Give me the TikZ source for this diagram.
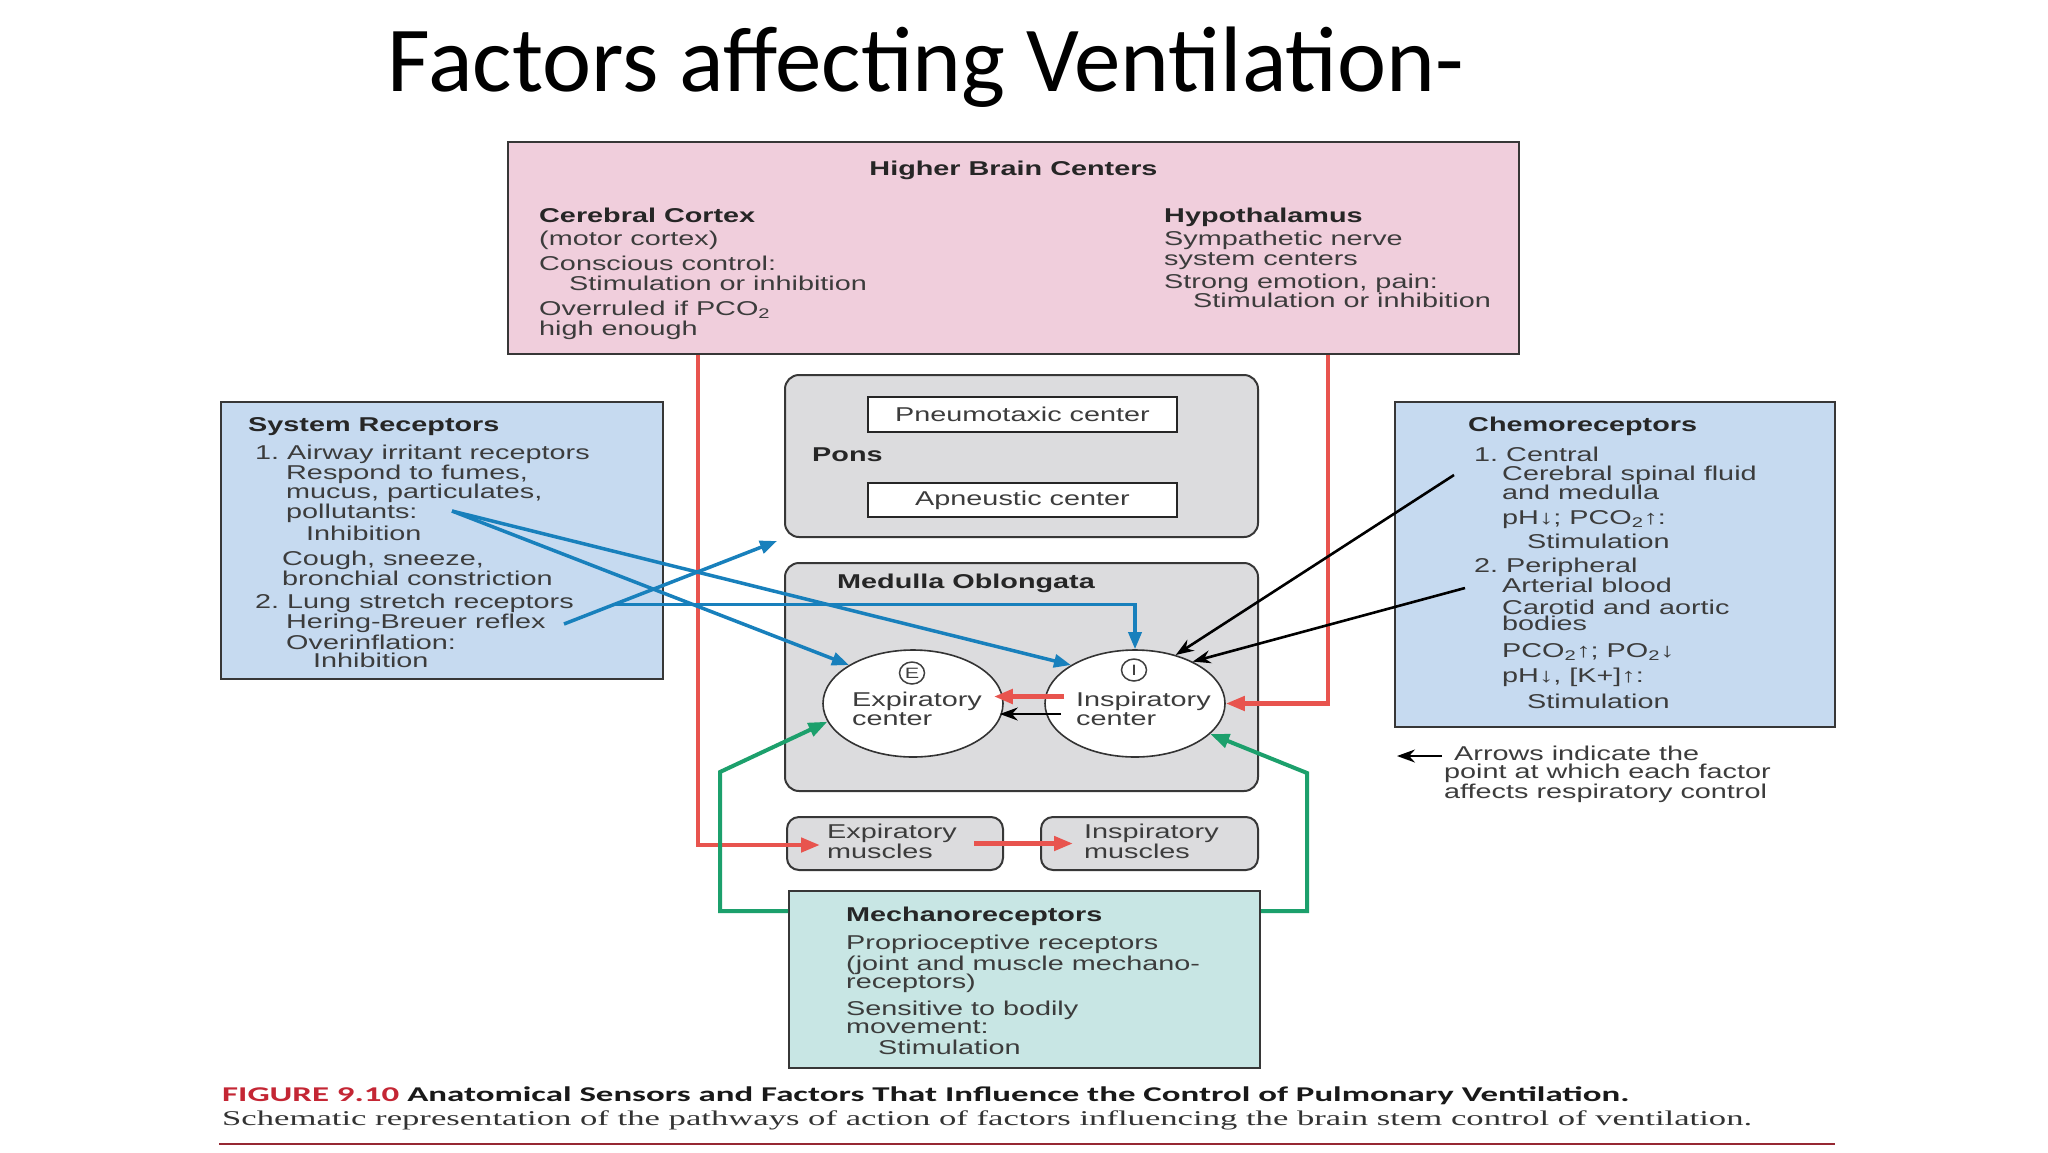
\documentclass[tikz,border=0pt]{standalone}
\usepackage{fontspec}
\setmainfont{Liberation Sans}
\newfontfamily\diagfont[FakeStretch=1.44]{Liberation Sans}
\newfontfamily\titlefont{Carlito}
\newfontfamily\capsans[FakeStretch=1.66]{Carlito}
\newfontfamily\capserif[FakeStretch=1.65]{Liberation Serif}
\usepackage{tikz}
\usetikzlibrary{positioning,arrows.meta,calc,shapes.geometric}
\definecolor{pinkbox}{RGB}{240,206,220}
\definecolor{bluebox}{RGB}{198,218,240}
\definecolor{graybox}{RGB}{220,220,222}
\definecolor{tealbox}{RGB}{200,230,228}
\definecolor{edgegray}{RGB}{55,55,55}
\definecolor{textgray}{RGB}{60,60,60}
\definecolor{redpath}{RGB}{232,84,78}
\definecolor{bluepath}{RGB}{24,128,188}
\definecolor{greenpath}{RGB}{28,160,108}
\definecolor{capred}{RGB}{196,38,52}
\definecolor{rulered}{RGB}{150,40,50}
\tikzset{
  panel/.style={draw=edgegray,line width=2pt,inner sep=0pt},
  brainpart/.style={panel,fill=graybox,rounded corners=14pt},
  centerbox/.style={draw=black!85,line width=2pt,fill=white,inner sep=0pt,
    text=textgray,font=\diagfont\fontsize{20}{20}\selectfont},
  hub/.style={ellipse,draw=black!80,line width=1.6pt,fill=white,inner sep=0pt,
    minimum width=180pt,minimum height=107pt},
  tag/.style={ellipse,draw=black!75,line width=1.5pt,inner sep=0pt,
    minimum width=25pt,minimum height=22pt,text=black!75,
    font=\diagfont\fontsize{15}{15}\selectfont},
  body/.style={anchor=north west,yshift=16pt,inner sep=0pt,align=left,text=textgray,
    execute at begin node={\rule{0pt}{16pt}},
    font=\diagfont\fontsize{20}{18.5}\selectfont},
  head/.style={anchor=base west,inner sep=0pt,text=black!85,
    font=\diagfont\bfseries\fontsize{20}{20}\selectfont},
  redarrow/.style={draw=redpath,line width=4.5pt,-{Triangle[length=19pt,width=14pt]}},
  bluearrow/.style={draw=bluepath,line width=3.5pt,-{Triangle[length=17pt,width=13pt]}},
  greenarrow/.style={draw=greenpath,line width=4pt,-{Triangle[length=19pt,width=14pt]}},
  blackarrow/.style={draw=black,line width=2.6pt,-{Stealth[length=18pt,width=13pt]}}
}
\begin{document}
\begin{tikzpicture}[x=1pt,y=-1pt]
  \fill[white] (0,0) rectangle (2048,1152);
  \useasboundingbox (0,0) rectangle (2048,1152);
  \node[anchor=base,inner sep=0pt,font=\titlefont\fontsize{93}{100}\selectfont]
    (title) at (926,91) {Factors affecting Ventilation-};

  % higher brain centers
  \node[panel,fill=pinkbox,minimum width=1011pt,minimum height=212pt]
    (hbc) at (1013.5,248) {};
  \node[head,anchor=base] (hbctitle) at (1013.5,175) {Higher Brain Centers};
  \node[head] (cortex) at (539,222) {Cerebral Cortex};
  \node[body,font=\diagfont\fontsize{20}{19.5}\selectfont] (cortextxt) at (539,247)
    {(motor cortex)\\[5.5pt]
     Conscious control:\\
     \hspace*{30pt}Stimulation or inhibition\\[6pt]
     Overruled if PCO\textsubscript{2}\\
     high enough};
  \node[head] (hypo) at (1164,222) {Hypothalamus};
  \node[body,font=\diagfont\fontsize{20}{19.5}\selectfont] (hypotxt) at (1164,247)
    {Sympathetic nerve\\
     system centers\\[3.5pt]
     Strong emotion, pain:\\
     \hspace*{29pt}Stimulation or inhibition};

  % system receptors
  \node[panel,fill=bluebox,minimum width=442pt,minimum height=277pt]
    (sysbox) at (442,540.5) {};
  \node[head] (systitle) at (248,431) {System Receptors};
  \node[body] (systxt) at (255,461)
    {1.\ Airway irritant receptors\\
     \hspace*{31pt}Respond to fumes,\\
     \hspace*{31pt}mucus, particulates,\\
     \hspace*{31pt}pollutants:\\[2.5pt]
     \hspace*{51pt}Inhibition\\[6.5pt]
     \hspace*{27pt}Cough, sneeze,\\
     \hspace*{27pt}bronchial constriction\\[5pt]
     2.\ Lung stretch receptors\\
     \hspace*{31pt}Hering-Breuer reflex\\[1pt]
     \hspace*{31pt}Overinflation:\\
     \hspace*{58pt}Inhibition};

  % chemoreceptors
  \node[panel,fill=bluebox,minimum width=440pt,minimum height=325pt]
    (chemobox) at (1615,564.5) {};
  \node[head] (chemotitle) at (1468,431) {Chemoreceptors};
  \node[body] (chemotxt) at (1474,463)
    {1.\ Central\\
     \hspace*{28pt}Cerebral spinal fluid\\
     \hspace*{28pt}and medulla\\[6pt]
     \hspace*{28pt}pH↓; PCO\textsubscript{2}↑:\\[5pt]
     \hspace*{53pt}Stimulation\\[5pt]
     2.\ Peripheral\\
     \hspace*{28pt}Arterial blood\\[3.5pt]
     \hspace*{28pt}Carotid and aortic\\[-2.5pt]
     \hspace*{28pt}bodies\\[8.5pt]
     \hspace*{28pt}PCO\textsubscript{2}↑; PO\textsubscript{2}↓\\[6.5pt]
     \hspace*{28pt}pH↓, [K+]↑:\\[6.5pt]
     \hspace*{53pt}Stimulation};

  % key
  \coordinate (keyhead) at (1397,756);
  \coordinate (keytail) at (1442,756);
  \draw[blackarrow,line width=2pt] (keytail) -- (keyhead);
  \node[body,font=\diagfont\fontsize{20}{18}\selectfont] (keytxt) at (1444,762)
    {\hspace*{10pt}Arrows indicate the\\
     point at which each factor\\
     affects respiratory control};

  % pons
  \node[brainpart,minimum width=473pt,minimum height=162pt] (pons) at (1021.5,456) {};
  \node[head] (ponslabel) at (812,461) {Pons};
  \node[centerbox,minimum width=309pt,minimum height=35pt]
    (pneumo) at (1022.5,414.5) {Pneumotaxic center};
  \node[centerbox,minimum width=309pt,minimum height=34pt]
    (apneu) at (1022.5,500) {Apneustic center};

  % medulla
  \node[brainpart,minimum width=473pt,minimum height=228pt] (medulla) at (1021.5,677) {};
  \node[head] (medlabel) at (837,588) {Medulla Oblongata};
  \node[hub] (expc) at (913,703.5) {};
  \node[hub] (inspc) at (1135,703.5) {};
  \node[tag] (etag) at (912,673) {E};
  \node[tag] (itag) at (1134,670) {I};
  \node[body,font=\diagfont\fontsize{20}{19}\selectfont] (exptxt) at (852,708)
    {Expiratory\\ center};
  \node[body,font=\diagfont\fontsize{20}{19}\selectfont] (insptxt) at (1076,708)
    {Inspiratory\\ center};

  % muscles
  \node[brainpart,rounded corners=12pt,minimum width=216pt,minimum height=53pt]
    (expm) at (895,843.5) {};
  \node[body,font=\diagfont\fontsize{20}{18}\selectfont] (expmtxt) at (827,840)
    {Expiratory\\ muscles};
  \node[brainpart,rounded corners=12pt,minimum width=217pt,minimum height=53pt]
    (inspm) at (1149.5,843.5) {};
  \node[body,font=\diagfont\fontsize{20}{18}\selectfont] (inspmtxt) at (1084,840)
    {Inspiratory\\ muscles};

  % mechanoreceptors
  \node[panel,fill=tealbox,minimum width=471pt,minimum height=177pt]
    (mech) at (1024.5,979.5) {};
  \node[head] (mechtitle) at (846,921) {Mechanoreceptors};
  \node[body] (mechtxt) at (846,951)
    {Proprioceptive receptors\\[1.5pt]
     (joint and muscle mechano-\\[-1.5pt]
     receptors)\\[6.5pt]
     Sensitive to bodily\\
     movement:\\[2.5pt]
     \hspace*{32pt}Stimulation};

  % red pathways
  \coordinate (cortexdrop) at (698,845);
  \coordinate (expmtip) at (820,845);
  \coordinate (hypodrop) at (1328,703.5);
  \draw[redarrow] (hbc.south -| cortexdrop) |- (expmtip);
  \draw[redarrow] (hbc.south -| hypodrop) |- (inspc.east);
  \draw[redarrow,line width=5pt] ($(inspc.west)+(20,-7)$) -- ($(expc.east)+(-10,-7)$);
  \draw[blackarrow,line width=2.4pt] ($(inspc.west)+(17,10.5)$) -- ($(expc.east)+(-4,10.5)$);
  \draw[redarrow] ($(expm.east)+(-30,0)$) -- ($(inspm.west)+(33,0)$);

  % blue pathways
  \coordinate (pollut) at (452,511);
  \coordinate (hering) at (564,624);
  \coordinate (ponstip) at (777,541);
  \coordinate (hbranch) at ($(hering)!0.235!(ponstip)$);
  \draw[bluearrow] (pollut) -- (expc.149);
  \draw[bluearrow] (pollut) -- (inspc.149);
  \draw[bluearrow] (hering) -- (ponstip);
  \draw[bluearrow] (hbranch) -| (inspc.north);

  % black pathways
  \coordinate (csfsrc) at (1454,475);
  \coordinate (artsrc) at (1465,588);
  \draw[blackarrow] (csfsrc) -- (inspc.50);
  \draw[blackarrow] (artsrc) -- (inspc.36);

  % green pathways
  \coordinate (mechleft) at (720,772);
  \coordinate (mechright) at (1307,773);
  \draw[greenarrow] ($(mech.north west)+(0,21)$) -| (mechleft) -- (expc.192);
  \draw[greenarrow] ($(mech.north east)+(0,21)$) -| (mechright) -- (inspc.338);

  % caption
  \node[anchor=base west,inner sep=0pt,text=black!90,
        font=\capsans\bfseries\fontsize{21}{21}\selectfont] (figcap) at (222,1101)
    {\textcolor{capred}{FIGURE 9.10}\hspace{8pt}Anatomical Sensors and Factors That
     Influence the Control of Pulmonary Ventilation.};
  \node[anchor=base west,inner sep=0pt,text=black!80,
        font=\capserif\fontsize{21}{21}\selectfont] (figsub) at (222,1125)
    {Schematic representation of the pathways of action of factors influencing the
     brain stem control of ventilation.};
  \coordinate (rulel) at (219,1144);
  \coordinate (ruler) at (1835,1144);
  \draw[rulered,line width=2.5pt] (rulel) -- (ruler);
\end{tikzpicture}
\end{document}
